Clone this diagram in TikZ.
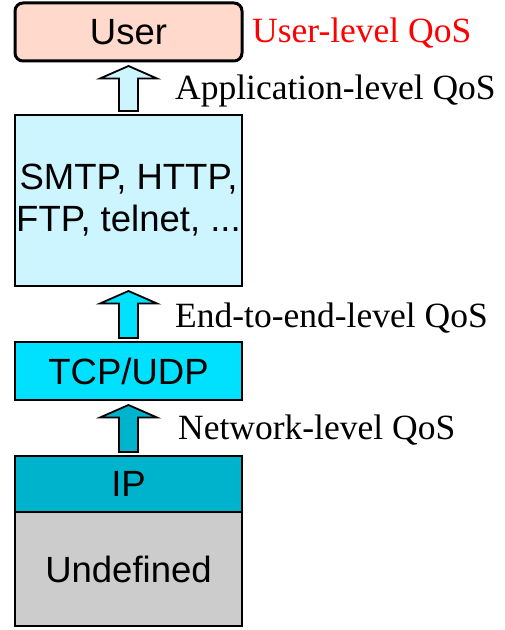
\documentclass[tikz,border=0pt]{standalone}
\usepackage{fontspec}
\setmainfont{Liberation Serif}
\setsansfont{Liberation Sans}
\usepackage{tikz}
\usetikzlibrary{calc,positioning}
\definecolor{usercol}{RGB}{255,218,204}
\definecolor{appcol}{RGB}{204,245,255}
\definecolor{tcpcol}{RGB}{0,224,255}
\definecolor{ipcol}{RGB}{0,179,204}
\definecolor{undefcol}{RGB}{204,204,204}
\newcommand{\qosarrow}[3]{%
  \draw[arrowline,fill=#3] ($(#1.north)+(-9.5,4)$) -- ($(#2.south)+(-9.5,-17.5)$)
    -- ($(#2.south)+(-28.5,-17.5)$) -- ($(#2.south)+(0,-5)$)
    -- ($(#2.south)+(28.5,-17.5)$) -- ($(#2.south)+(9.5,-17.5)$)
    -- ($(#1.north)+(9.5,4)$) -- cycle;}

\begin{document}
\begin{tikzpicture}[x=1pt,y=1pt,
  layerbox/.style={draw,line width=2pt,minimum width=227pt,inner sep=0pt,outer sep=0pt,
    align=center,font=\sffamily\fontsize{36.5}{42}\selectfont},
  qoslabel/.style={anchor=base west,inner sep=0pt,font=\fontsize{35.5}{42}\selectfont},
  arrowline/.style={draw,line width=1.8pt,line join=miter}]
\useasboundingbox (0,0) rectangle (505,630);
% protocol layers
\node[layerbox,fill=usercol,line width=3pt,rounded corners=8pt,minimum height=58pt] (user) at (128.5,598) {User};
\node[layerbox,fill=appcol,minimum height=171pt] (app) at (128.5,429.5) {SMTP, HTTP,\\FTP, telnet, ...};
\node[layerbox,fill=tcpcol,minimum height=58pt] (tcp) at (128.5,259) {TCP/UDP};
\node[layerbox,fill=ipcol,minimum height=56pt] (ip) at (128.5,146) {IP};
\node[layerbox,fill=undefcol,minimum height=114pt] (undef) at (128.5,61) {Undefined};
% block arrows between layers
\qosarrow{app}{user}{appcol}
\qosarrow{tcp}{app}{tcpcol}
\qosarrow{ip}{tcp}{ipcol}
% QoS levels
\node[qoslabel,text=red] (userqos) at (252,587) {User-level QoS};
\node[qoslabel] (appqos) at (175,530) {Application-level QoS};
\node[qoslabel] (e2eqos) at (175,302) {End-to-end-level QoS};
\node[qoslabel] (netqos) at (178,190) {Network-level QoS};
\end{tikzpicture}
\end{document}
